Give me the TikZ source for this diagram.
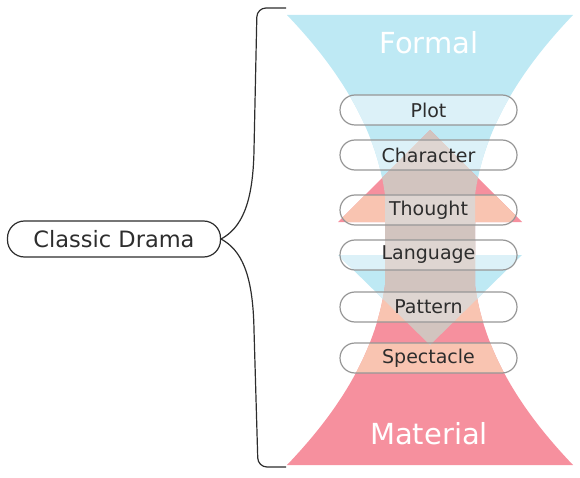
\documentclass[tikz,border=0pt]{standalone}
\usepackage{fontspec}
\setmainfont{DejaVu Sans}
\usetikzlibrary{calc}
\definecolor{formalblue}{RGB}{190,233,244}
\definecolor{materialred}{RGB}{246,144,158}
\definecolor{mixtaupe}{RGB}{210,196,191}
\definecolor{bandblue}{RGB}{220,241,248}
\definecolor{bandpeach}{RGB}{249,196,177}
\definecolor{bandtaupe}{RGB}{222,213,209}
\definecolor{textgrey}{RGB}{45,45,45}
\definecolor{boxgrey}{RGB}{150,150,150}
\tikzset{
	aspect/.style={draw=boxgrey, line width=1.2pt, rounded corners=15pt, minimum width=177pt, minimum height=30pt, text=textgrey, font=\fontsize{19}{19}\selectfont},
	root/.style={draw=textgrey, line width=1.2pt, rounded corners=17pt, minimum width=213pt, minimum height=36pt, text=textgrey, font=\fontsize{22.5}{22.5}\selectfont},
	pole/.style={text=white, font=\fontsize{29}{29}\selectfont},
	brace/.style={draw=textgrey, line width=1.2pt}
}
\def\formalpath{(287,15) -- (573,15) .. controls (530,60) and (485,120) .. (475,195) -- (475,255) -- (522,255) -- (430,345) -- (338,255) -- (385,255) -- (385,195) .. controls (375,120) and (330,60) .. (287,15) -- cycle}
\def\materialpath{(287,465) -- (573,465) .. controls (530,420) and (485,360) .. (475,285) -- (475,222) -- (522,222) -- (430,130) -- (338,222) -- (385,222) -- (385,285) .. controls (375,360) and (330,420) .. (287,465) -- cycle}
\def\band(#1){\begin{scope}
		\clip[rounded corners=15pt] (340,#1-15) rectangle (517,#1+15);
		\fill[bandblue] \formalpath;
		\fill[bandpeach] \materialpath;
		\clip \formalpath;
		\fill[bandtaupe] \materialpath;
	\end{scope}}

\begin{document}
\begin{tikzpicture}[x=1pt, y=-1pt]
			%%%%% START %%%%%
			\useasboundingbox (0,0) rectangle (580,478);
			
			\fill[formalblue] \formalpath;
			\fill[materialred] \materialpath;
			\begin{scope}
				\clip \formalpath;
				\fill[mixtaupe] \materialpath;
			\end{scope}
			
			\band(110)
			\band(155)
			\band(210)
			\band(255)
			\band(307)
			\band(358)
			
			\node[pole] (formal) at (429,43) {Formal};
			\node[pole] (material) at (429,434) {Material};
			
			\node[aspect] (plot) at (428.5,110) {Plot};
			\node[aspect] (character) at (428.5,155) {Character};
			\node[aspect] (thought) at (428.5,210) {Thought};
			\node[aspect] (language) at (428.5,255) {Language};
			\node[aspect] (pattern) at (428.5,307) {Pattern};
			\node[aspect] (spectacle) at (428.5,358) {Spectacle};
			
			\node[root] (drama) at (114,239) {Classic Drama};
			
			\coordinate (formaltop) at (286,8);
			\coordinate (materialbot) at (286,467);
			
			\draw[brace] (drama.east) .. controls (241,228) and (253,205) .. (254,150) [rounded corners=9pt] -- (257,8) -- (formaltop);
			\draw[brace] (drama.east) .. controls (241,250) and (253,273) .. (254,330) [rounded corners=9pt] -- (258,467) -- (materialbot);
			
			%%%%% END %%%%%
\end{tikzpicture}
\end{document}
